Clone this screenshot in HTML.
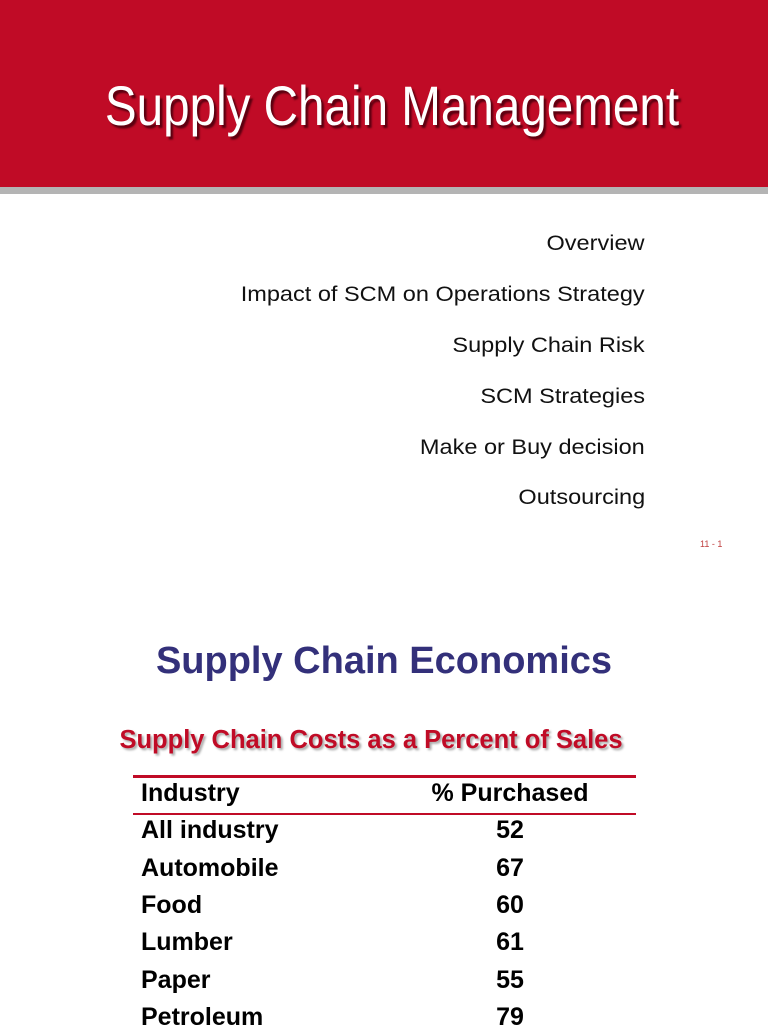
<!DOCTYPE html>
<html><head><meta charset="utf-8"><style>
body{margin:0;width:768px;height:1024px;overflow:hidden;background:#fff;font-family:"Liberation Sans",sans-serif;position:relative}
.abs{position:absolute}
#band{left:0;top:0;width:768px;height:187px;background:#c00b26}
#bandline{left:0;top:187px;width:768px;height:7px;background:#b4b4b4}
#title{left:8px;top:74px;width:768px;text-align:center;color:#fff;font-size:56px;line-height:64px;transform:scaleX(0.85);text-shadow:3px 3px 2px #5a0010;white-space:nowrap}
.menu{right:123px;font-size:21px;line-height:24px;color:#111;text-align:right;white-space:nowrap;transform:scaleX(1.12);transform-origin:right center}
#pg{left:700px;top:539px;font-size:9px;color:#c04040}
#h2{left:0;width:768px;text-align:center;top:640px;font-size:38px;font-weight:bold;color:#33307a}
#sub{left:0;width:742px;text-align:center;top:726px;font-size:25.5px;font-weight:bold;color:#c00b26;text-shadow:2px 2px 2px #aaa;white-space:nowrap}
.rule{left:133px;width:503px;background:#c00b26}
.cell{font-size:25px;font-weight:bold;color:#000;white-space:nowrap}
</style></head><body>
<div class="abs" id="band"></div>
<div class="abs" id="bandline"></div>
<div class="abs" id="title">Supply Chain Management</div>
<div class="abs menu" style="top:232px">Overview</div>
<div class="abs menu" style="top:283px">Impact of SCM on Operations Strategy</div>
<div class="abs menu" style="top:334px">Supply Chain Risk</div>
<div class="abs menu" style="top:385px">SCM Strategies</div>
<div class="abs menu" style="top:436px">Make or Buy decision</div>
<div class="abs menu" style="top:486px">Outsourcing</div>
<div class="abs" id="pg">11 - 1</div>
<div class="abs" id="h2">Supply Chain Economics</div>
<div class="abs" id="sub">Supply Chain Costs as a Percent of Sales</div>
<div class="abs rule" style="top:775px;height:3px"></div>
<div class="abs rule" style="top:813px;height:2px"></div>
<div id="table"></div>
<script>
const industries=["Industry","All industry","Automobile","Food","Lumber","Paper","Petroleum"];
const purchased=["% Purchased","52","67","60","61","55","79"];
const root=document.getElementById('table');
industries.forEach((n,i)=>{
  const top=779+i*37.3;
  const a=document.createElement('div');
  a.className='abs cell';a.style.left='141px';a.style.top=top+'px';a.textContent=n;
  
  
  root.appendChild(a);
  const b=document.createElement('div');
  b.className='abs cell';b.style.left='410px';b.style.width='200px';b.style.textAlign='center';b.style.top=top+'px';b.textContent=purchased[i];
  
  
  root.appendChild(b);
});
</script>
</body></html>
